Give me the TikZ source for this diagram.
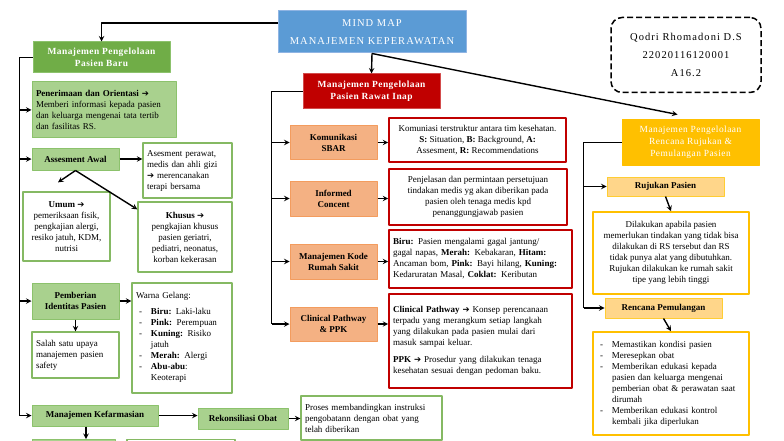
\documentclass[tikz,border=0pt]{standalone}
\usepackage{fontspec}
\setmainfont{Liberation Serif}
\newfontfamily\hfont[LetterSpace=10]{Liberation Serif}
\newfontfamily\kfont[LetterSpace=5]{Liberation Serif}
\newfontfamily\symfont{DejaVu Sans}
\usetikzlibrary{calc}
\definecolor{biruJudul}{HTML}{5B9BD5}
\definecolor{biruGaris}{HTML}{8FB4E3}
\definecolor{hijauTua}{HTML}{70AD47}
\definecolor{hijauMuda}{HTML}{A9D18E}
\definecolor{hijauGaris}{HTML}{8CC26C}
\definecolor{merahTua}{HTML}{C00000}
\definecolor{salem}{HTML}{F4B183}
\definecolor{salemGaris}{HTML}{F39C5E}
\definecolor{jingga}{HTML}{FFC000}
\definecolor{jinggaMuda}{HTML}{FFD68A}
\newcommand{\panah}{{\symfont\fontsize{8.5}{8.5}\selectfont\char"2794}}
\begin{document}
\begin{tikzpicture}[x=1pt,y=-1pt,>=stealth,line join=round,
	every node/.style={inner sep=3pt,font=\fontsize{9}{11}\selectfont},
	judul/.style={fill=biruJudul,draw=biruGaris,line width=1pt,text=white,align=center,font=\hfont\fontsize{10.5}{12}\selectfont},
	kepalaH/.style={fill=hijauTua,draw=hijauGaris,line width=1pt,text=white,align=center,font=\kfont\bfseries\fontsize{9.4}{12}\selectfont},
	kepalaM/.style={fill=merahTua,draw=merahTua!70,line width=1pt,text=white,align=center,font=\kfont\bfseries\fontsize{9.4}{12}\selectfont},
	kepalaJ/.style={fill=jingga,draw=jingga,line width=1pt,text=white,align=center,font=\kfont\fontsize{9.4}{12}\selectfont},
	kotakH/.style={fill=hijauMuda,draw=hijauGaris,line width=1pt,align=center,font=\bfseries\fontsize{9}{11}\selectfont},
	kotakS/.style={fill=salem,draw=salemGaris,line width=1pt,align=center,font=\bfseries\fontsize{9}{11}\selectfont},
	kotakJ/.style={fill=jinggaMuda,draw=jingga!80,line width=1pt,align=center,font=\bfseries\fontsize{9}{11}\selectfont},
	isiH/.style={fill=white,draw=hijauTua!85,line width=1.3pt},
	isiM/.style={fill=white,draw=merahTua,line width=1.6pt},
	isiJ/.style={fill=white,draw=jingga,line width=1.6pt},
	garis/.style={line width=1.4pt}]
	\useasboundingbox (0,0) rectangle (784,441);
	\clip (0,0) rectangle (784,441);
	% judul
	\node[judul,minimum width=188,minimum height=42] (title) at (372,32) {MIND MAP\\[6pt]MANAJEMEN KEPERAWATAN};
	\node[draw,dash pattern=on 6pt off 3pt,rounded corners=11pt,line width=1.5pt,align=center,minimum width=150,minimum height=75,font=\hfont\fontsize{10.5}{11}\selectfont] (nama) at (686,55) {Qodri Rhomadoni D.S\\[7pt]22020116120001\\[7pt]A16.2};
	% pasien baru
	\node[kepalaH,minimum width=137,minimum height=31] (pbaru) at (101.5,57.5) {Manajemen Pengelolaan\\Pasien Baru};
	\node[kotakH,minimum width=144,minimum height=56,text width=136,align=left,font=\fontsize{9}{11}\selectfont] (terima) at (104,110) {\textbf{Penerimaan dan Orientasi} \panah\\Memberi informasi kepada pasien\\dan keluarga mengenai tata tertib\\dan fasilitas RS.};
	\node[kotakH,minimum width=87,minimum height=22] (awal) at (75.5,159) {Assesment Awal};
	\node[isiH,minimum width=89,minimum height=55,text width=81,align=left] (awalket) at (187.5,170.5) {Asesment perawat,\\medis dan ahli gizi\\\panah{} merencanakan\\terapi bersama};
	\node[isiH,minimum width=87,minimum height=69,align=center] (umum) at (66.5,226.5) {\textbf{Umum} \panah\\pemeriksaan fisik,\\pengkajian alergi,\\resiko jatuh, KDM,\\nutrisi};
	\node[isiH,minimum width=94,minimum height=70,align=center] (khusus) at (185,237) {\textbf{Khusus} \panah\\pengkajian khusus\\pasien geriatri,\\pediatri, neonatus,\\korban kekerasan};
	\node[kotakH,minimum width=87,minimum height=36] (identitas) at (75.5,301) {Pemberian\\Identitas Pasien};
	\node[isiH,minimum width=100,minimum height=110,text width=92,align=left] (gelang) at (182,338) {Warna Gelang:\\[5pt]
		\begin{tabular}{@{\hspace{3pt}}l@{\hspace{9pt}}p{66pt}@{}}
		- & \textbf{Biru:} Laki-laku\\
		- & \textbf{Pink:} Perempuan\\
		- & \textbf{Kuning:} Risiko\newline jatuh\\
		- & \textbf{Merah:} Alergi\\
		- & \textbf{Abu-abu}:\newline Keoterapi
		\end{tabular}};
	\node[isiH,minimum width=87,minimum height=46,text width=79,align=left] (safety) at (75.5,355) {Salah satu upaya\\manajemen pasien\\safety};
	\node[kotakH,minimum width=126,minimum height=21] (farmasi) at (95,415.5) {Manajemen Kefarmasian};
	\node[kotakH,minimum width=90,minimum height=21] (rekon) at (243,418.5) {Rekonsiliasi Obat};
	\node[isiH,minimum width=141,minimum height=44,text width=133,align=left] (proses) at (371.5,418) {Proses membandingkan instruksi\\pengobatann dengan obat yang\\telah diberikan};
	\node[kotakH,minimum width=83,minimum height=24,anchor=north] (kefA) at (73.5,439) {};
	\node[isiH,minimum width=108,minimum height=24,anchor=north] (kefB) at (181,439) {};
	% rawat inap
	\node[kepalaM,minimum width=137,minimum height=35] (ranap) at (371.5,91.5) {Manajemen Pengelolaan\\Pasien Rawat Inap};
	\node[kotakS,minimum width=87,minimum height=33] (sbar) at (333.5,142.5) {Komunikasi\\SBAR};
	\node[kotakS,minimum width=87,minimum height=35] (ic) at (333.5,198.5) {Informed\\Concent};
	\node[kotakS,minimum width=87,minimum height=35] (kode) at (333.5,261.5) {Manajemen Kode\\Rumah Sakit};
	\node[kotakS,minimum width=87,minimum height=34] (cp) at (333.5,324) {Clinical Pathway\\\& PPK};
	\node[isiM,minimum width=177,minimum height=44,align=center] (sbarket) at (477.5,140) {Komuniasi terstruktur antara tim kesehatan.\\\textbf{S:} Situation, \textbf{B:} Background, \textbf{A:}\\Assesment, \textbf{R:} Recommendations};
	\node[isiM,minimum width=178,minimum height=56,align=center] (icket) at (478,197) {Penjelasan dan permintaan persetujuan\\tindakan medis yg akan diberikan pada\\pasien oleh tenaga medis kpd\\penanggungjawab pasien};
	\node[isiM,minimum width=183,minimum height=58,text width=175,align=left] (kodeket) at (480.5,259) {\textbf{Biru:} Pasien mengalami gagal jantung/\\gagal napas, \textbf{Merah:} Kebakaran, \textbf{Hitam:}\\Ancaman bom, \textbf{Pink:} Bayi hilang, \textbf{Kuning:}\\Kedaruratan Masal, \textbf{Coklat:} Keributan};
	\node[isiM,minimum width=183,minimum height=94,text width=175,align=left] (cpket) at (480.5,341) {\textbf{Clinical Pathway} \panah{} Konsep perencanaan\\terpadu yang merangkum setiap langkah\\yang dilakukan pada pasien mulai dari\\masuk sampai keluar.\\[6pt]\textbf{PPK} \panah{} Prosedur yang dilakukan tenaga\\kesehatan sesuai dengan pedoman baku.};
	% rujukan dan pemulangan
	\node[kepalaJ,minimum width=137,minimum height=45] (rujukhead) at (690.5,142.5) {Manajemen Pengelolaan\\Rencana Rujukan \&\\Pemulangan Pasien};
	\node[kotakJ,minimum width=117,minimum height=19] (rujuk) at (665.5,186.5) {Rujukan Pasien};
	\node[isiJ,minimum width=156,minimum height=82,align=center] (rujukket) at (671,253) {Dilakukan apabila pasien\\memerlukan tindakan yang tidak bisa\\dilakukan di RS tersebut dan RS\\tidak punya alat yang dibutuhkan.\\Rujukan dilakukan ke rumah sakit\\tipe yang lebih tinggi};
	\node[kotakJ,minimum width=117,minimum height=20] (pulang) at (663.5,308) {Rencana Pemulangan};
	\node[isiJ,minimum width=156,minimum height=103,text width=148,align=left] (pulangket) at (671,383.5) {%
		\begin{tabular}{@{\hspace{3pt}}l@{\hspace{9pt}}p{130pt}@{}}
		- & Memastikan kondisi pasien\\
		- & Meresepkan obat\\
		- & Memberikan edukasi kepada\newline pasien dan keluarga mengenai\newline pemberian obat \& perawatan saat\newline dirumah\\
		- & Memberikan edukasi kontrol\newline kembali jika diperlukan
		\end{tabular}};
	% penghubung
	\draw[garis,->] ([yshift=9pt]title.west) -| (pbaru.north);
	\draw[garis,->] (title.south) -- (ranap.north);
	\draw[garis,->] (title.south) -- ($(rujukhead.north)+(-13,-5)$);
	\draw[garis] (pbaru.west) -- ++(-13,0) coordinate (kiri) -- (kiri |- farmasi.west);
	\foreach \n in {terima,awal,identitas,farmasi}
		\draw[garis,->] (kiri |- \n.west) -- (\n.west);
	\draw[garis,->] (awal.east) -- (awalket.west |- awal.east);
	\draw[garis,->] (awal.south) -- ($(umum.north)+(-8.5,-9)$);
	\draw[garis,->] (awal.south) -- ($(khusus.north west)+(0,8)$);
	\draw[garis,->] (identitas.east) -- (gelang.west |- identitas.east);
	\draw[garis,->] (identitas.south) -- (safety.north);
	\draw[garis,->] (farmasi.east) -- (rekon.west |- farmasi.east);
	\draw[garis,->] (rekon.east) -- (proses.west |- rekon.east);
	\draw[garis,->] ([xshift=-9pt]farmasi.south) -- ([xshift=-9pt]farmasi.south |- kefA.north);
	\draw[garis] (ranap.west) -- ++(-31,0) coordinate (tengah) -- (tengah |- cp.west);
	\foreach \n in {sbar,ic,kode,cp}
		\draw[garis,->] (tengah |- \n.west) -- (\n.west);
	\foreach \n in {sbar,ic,kode,cp}
		\draw[garis,->] (\n.east) -- (\n ket.west |- \n.east);
	\draw[garis] (rujukhead.west) -- ++(-38,0) coordinate (kanan) -- (kanan |- pulang.west);
	\foreach \n in {rujuk,pulang}
		\draw[garis,->] (kanan |- \n.west) -- (\n.west);
	\draw[garis,->] (rujuk.south) -- (rujukket.north);
	\draw[garis,->] (pulang.south) -- (pulangket.north);
\end{tikzpicture}
\end{document}
